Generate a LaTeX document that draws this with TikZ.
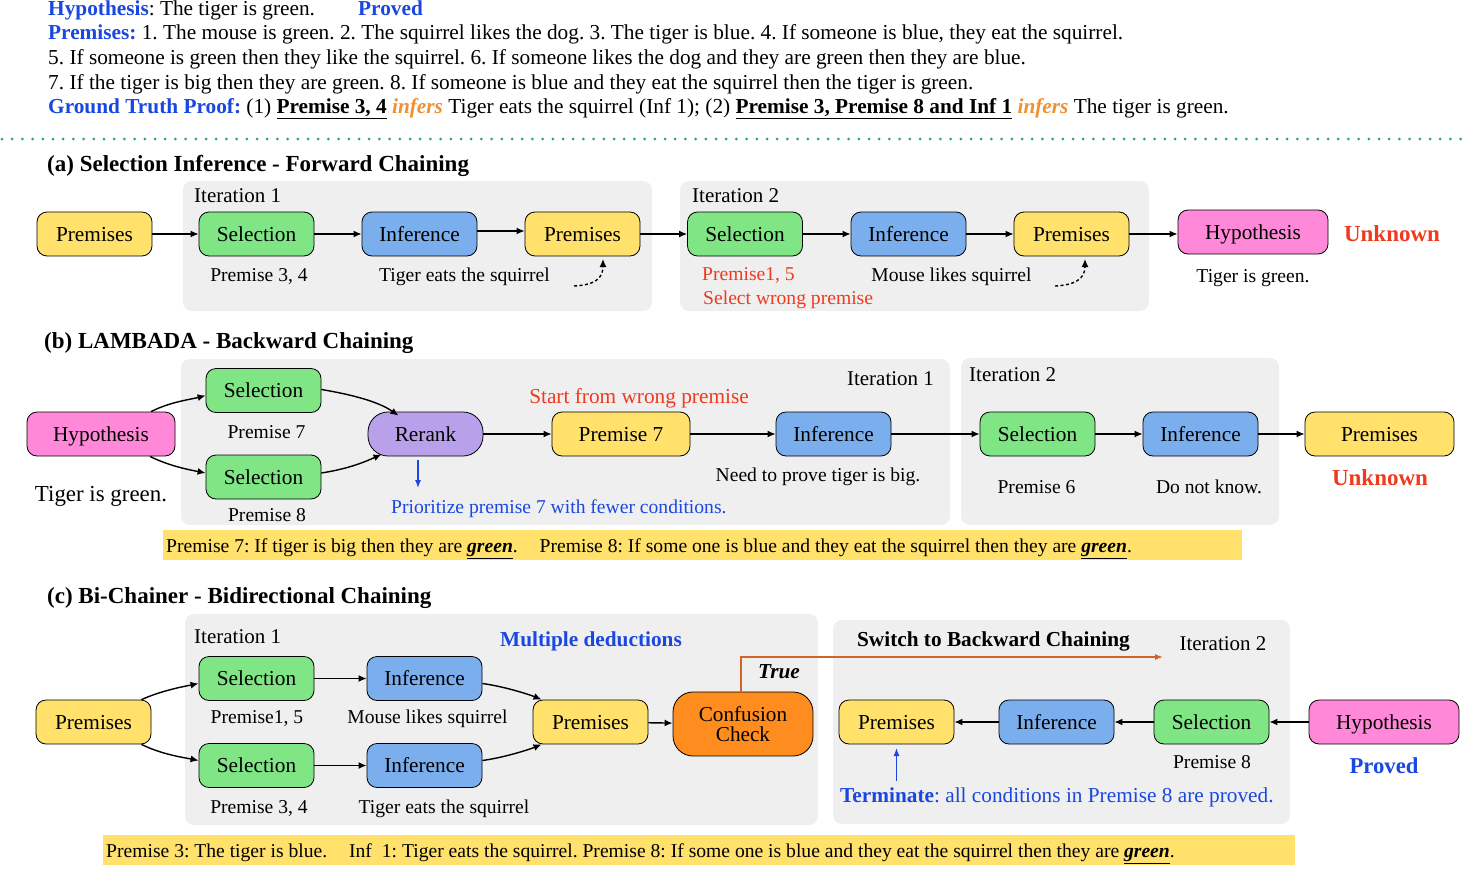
\documentclass[tikz,border=0pt]{standalone}
\usepackage{fontspec}
\setmainfont{Liberation Serif}
\usetikzlibrary{arrows.meta,calc}
\definecolor{cyel}{HTML}{FFE16B}
\definecolor{cgrn}{HTML}{7FE585}
\definecolor{cblu}{HTML}{7BAEEC}
\definecolor{cpnk}{HTML}{FF88D8}
\definecolor{cpur}{HTML}{B9A0EA}
\definecolor{corg}{HTML}{FF8C1F}
\definecolor{cpanel}{HTML}{EFEFEF}
\definecolor{tred}{HTML}{EE3A1E}
\definecolor{tblu}{HTML}{1A47E0}
\definecolor{tinf}{HTML}{F09030}
\definecolor{cteal}{HTML}{2A9D8F}
\definecolor{carr}{HTML}{D2642A}
\frenchspacing
\newcommand{\szbody}{\frenchspacing\fontsize{21.3}{25}\selectfont}
\newcommand{\szbox}{\fontsize{21.3}{24}\selectfont}
\newcommand{\szlbl}{\frenchspacing\fontsize{19.6}{23}\selectfont}
\newcommand{\sziter}{\fontsize{21}{24}\selectfont}
\newcommand{\szhead}{\fontsize{23}{26}\selectfont\bfseries}
\newcommand{\szband}{\frenchspacing\fontsize{19.6}{23}\selectfont}
\newcommand{\szsub}{\fontsize{21.3}{24}\selectfont\bfseries}
\tikzset{
  x=1pt,y=-1pt,
  box/.style={draw=black,line width=0.8pt,rounded corners=10pt,minimum height=44pt,minimum width=115pt,inner sep=0pt,font=\szbox,align=center,text height=18pt,text depth=4pt},
  ybox/.style={box,fill=cyel},
  gbox/.style={box,fill=cgrn},
  bbox/.style={box,fill=cblu},
  pbox/.style={box,fill=cpnk,minimum width=150pt},
  panel/.style={fill=cpanel,rounded corners=9pt},
  band/.style={fill=cyel},
  conn/.style={-{Latex[length=8pt,width=7pt]},line width=1.4pt,black},
  dconn/.style={conn,dash pattern=on 3pt off 2.5pt},
  blueconn/.style={-{Latex[length=8pt,width=6pt]},line width=1.3pt,tblu},
  lbl/.style={inner sep=0pt,font=\szlbl,text height=18pt,text depth=4pt},
  txtl/.style={inner sep=0pt,anchor=west,font=\szbody,text height=16.5pt,text depth=4pt},
  head/.style={inner sep=0pt,anchor=west,font=\szhead,text height=20pt,text depth=4.5pt},
}
\begin{document}
\begin{tikzpicture}
\useasboundingbox (0,0) rectangle (1475,870);
% top text
\node[txtl] (t1) at (48,9) {\textcolor{tblu}{\textbf{Hypothesis}}: The tiger is green.};
\node[txtl,font=\szbody\bfseries,text=tblu] (t1b) at (358,9) {Proved};
\node[txtl] (t2) at (48,33) {\textcolor{tblu}{\textbf{Premises:}} 1. The mouse is green. 2. The squirrel likes the dog. 3. The tiger is blue. 4. If someone is blue, they eat the squirrel.};
\node[txtl] (t3) at (48,58) {5. If someone is green then they like the squirrel. 6. If someone likes the dog and they are green then they are blue.};
\node[txtl] (t4) at (48,83) {7. If the tiger is big then they are green. 8. If someone is blue and they eat the squirrel then the tiger is green.};
\node[txtl] (t5) at (48,107) {\textcolor{tblu}{\textbf{Ground Truth Proof:}} (1) \underline{\textbf{Premise 3, 4}} \textcolor{tinf}{\textbf{\textit{infers}}} Tiger eats the squirrel (Inf 1); (2) \underline{\textbf{Premise 3, Premise 8 and Inf 1}} \textcolor{tinf}{\textbf{\textit{infers}}} The tiger is green.};
\coordinate (dl) at (2,139);
\coordinate (dr) at (1466,139);
\draw[cteal,line width=3pt,line cap=round,dash pattern=on 0pt off 10.2pt] (dl) -- (dr);
% panels
\fill[panel] (183,181) rectangle (652,311);
\fill[panel] (680,181) rectangle (1149,311);
\fill[panel] (181,359) rectangle (950,525);
\fill[panel] (961,358) rectangle (1279,525);
\fill[panel] (185,614) rectangle (818,825);
\fill[panel] (833,620) rectangle (1290,824);
\fill[band] (163,530) rectangle (1242,560);
\fill[band] (103,835) rectangle (1295,865);
% section (a)
\node[head] (ha) at (47,164) {(a) Selection Inference - Forward Chaining};
\node[lbl,anchor=west,font=\sziter] (a1t) at (194,195) {Iteration 1};
\node[lbl,anchor=west,font=\sziter] (a2t) at (692,195) {Iteration 2};
\node[ybox] (ap0) at (94.5,234) {Premises};
\node[gbox] (as1) at (256.5,234) {Selection};
\node[bbox] (ai1) at (419.5,234) {Inference};
\node[ybox] (ap1) at (582.5,234) {Premises};
\node[gbox] (as2) at (745,234) {Selection};
\node[bbox] (ai2) at (908.5,234) {Inference};
\node[ybox] (ap2) at (1071.5,234) {Premises};
\node[pbox] (ah) at (1253,232) {Hypothesis};
\draw[conn] (ap0) -- (as1);
\draw[conn] (as1) -- (ai1);
\draw[conn] ([yshift=3pt]ai1.east) -- ([yshift=3pt]ap1.west);
\draw[conn] (ap1) -- (as2);
\draw[conn] (as2) -- (ai2);
\draw[conn] (ai2) -- (ap2);
\draw[conn] (ap2.east) -- (ah.west |- ap2.east);
\node[lbl] (al1) at (259,274) {Premise 3, 4};
\node[lbl] (al2) at (464.5,274) {Tiger eats the squirrel};
\node[lbl,text=tred,anchor=west] (al3) at (702,273) {Premise1, 5};
\node[lbl,text=tred,anchor=west] (al4) at (703,297) {Select wrong premise};
\node[lbl] (al5) at (951.5,274) {Mouse likes squirrel};
\node[lbl] (al6) at (1253,275) {Tiger is green.};
\node[lbl,font=\fontsize{23}{26}\selectfont\bfseries,text=tred] (au) at (1392,234) {Unknown};
\coordinate (c1a) at (574,286);
\coordinate (c1b) at (603,259);
\draw[dconn] (c1a) .. controls (594,285) and (603,279) .. (c1b);
\coordinate (c2a) at (1055,286);
\coordinate (c2b) at (1085,259);
\draw[dconn] (c2a) .. controls (1075,285) and (1085,279) .. (c2b);
% section (b)
\node[head] (hb) at (44,341) {(b) LAMBADA - Backward Chaining};
\node[pbox,minimum width=148pt] (bh) at (101,434) {Hypothesis};
\node[gbox] (bs1) at (263.5,390.5) {Selection};
\node[gbox] (bs2) at (263.5,477) {Selection};
\node[box,fill=cpur,rounded corners=20pt] (br) at (425.5,434) {Rerank};
\node[ybox,minimum width=138pt] (bp7) at (621,434) {Premise 7};
\node[bbox] (bi1) at (833.5,434) {Inference};
\node[gbox] (bs3) at (1037.5,434) {Selection};
\node[bbox] (bi2) at (1200.5,434) {Inference};
\node[ybox,minimum width=149pt] (bp) at (1379.5,434) {Premises};
\draw[conn] ([xshift=50pt]bh.north) .. controls +(20,-10) and +(-15,4) .. ([yshift=-5pt]bs1.west);
\draw[conn] ([xshift=49pt]bh.south) .. controls +(20,10) and +(-15,-3) .. ([yshift=4pt]bs2.west);
\draw[conn] ([yshift=1pt]bs1.east) .. controls +(30,5) and +(-20,-14) .. ([xshift=-27pt,yshift=-4pt]br.north);
\draw[conn] ([yshift=4pt]bs2.east) .. controls +(25,-4) and +(-20,9) .. ([xshift=-44pt,yshift=2pt]br.south);
\draw[conn] (br) -- (bp7);
\draw[conn] (bp7) -- (bi1);
\draw[conn] (bi1) -- (bs3);
\draw[conn] (bs3) -- (bi2);
\draw[conn] (bi2) -- (bp);
\node[lbl] (bl1) at (266.5,431) {Premise 7};
\node[lbl] (bl2) at (267,514) {Premise 8};
\node[lbl,font=\fontsize{22.9}{26}\selectfont] (bl3) at (101,494) {Tiger is green.};
\node[lbl,font=\szbody,text=tred] (bl4) at (639,396) {Start from wrong premise};
\node[lbl,font=\sziter] (bl5) at (890.5,378) {Iteration 1};
\node[lbl,font=\sziter,anchor=west] (bl6) at (969,374) {Iteration 2};
\node[lbl] (bl7) at (818,474) {Need to prove tiger is big.};
\node[lbl] (bl8) at (1036.5,486) {Premise 6};
\node[lbl] (bl9) at (1209,486) {Do not know.};
\node[lbl,text=tblu,anchor=west] (bl10) at (391,506) {Prioritize premise 7 with fewer conditions.};
\node[lbl,font=\fontsize{23}{26}\selectfont\bfseries,text=tred] (bu) at (1380,478) {Unknown};
\coordinate (barr1) at (418,460);
\coordinate (barr2) at (418,488);
\draw[blueconn] (barr1) -- (barr2);
\node[lbl,anchor=west,font=\szband] (bb) at (166,545.5) {Premise 7: If tiger is big then they are \underline{\textbf{\textit{green}}}.\hspace{17pt} Premise 8: If some one is blue and they eat the squirrel then they are \underline{\textbf{\textit{green}}}.};
% section (c)
\node[head] (hc) at (47,596) {(c) Bi-Chainer - Bidirectional Chaining};
\node[lbl,anchor=west,font=\sziter] (c1t) at (194,636) {Iteration 1};
\node[lbl,font=\szsub,text=tblu] (cmd) at (591,639) {Multiple deductions};
\node[lbl,font=\szsub] (csw) at (993.5,639) {Switch to Backward Chaining};
\node[lbl,font=\sziter] (c2t) at (1223,643) {Iteration 2};
\node[ybox] (cp0) at (93.5,722) {Premises};
\node[gbox] (cs1) at (256.5,678.5) {Selection};
\node[gbox] (cs2) at (256.5,765.5) {Selection};
\node[bbox] (ci1) at (424.5,678.5) {Inference};
\node[bbox] (ci2) at (424.5,765.5) {Inference};
\node[ybox] (cp1) at (590.5,722) {Premises};
\node[box,fill=corg,minimum width=140pt,minimum height=64pt,rounded corners=20pt,font=\fontsize{21.2}{20}\selectfont,text height=,text depth=] (cc) at (743,724) {Confusion\\Check};
\node[ybox] (cp2) at (896.5,722) {Premises};
\node[bbox] (ci3) at (1056.5,722) {Inference};
\node[gbox] (cs3) at (1211.5,722) {Selection};
\node[pbox] (ch) at (1384,722) {Hypothesis};
\draw[conn] ([xshift=48pt]cp0.north) .. controls +(20,-9) and +(-15,3) .. ([yshift=-5pt]cs1.west);
\draw[conn] ([xshift=48pt]cp0.south) .. controls +(20,10) and +(-15,-3) .. ([yshift=5pt]cs2.west);
\draw[conn] (cs1) -- (ci1);
\draw[conn] (cs2) -- (ci2);
\draw[conn] ([yshift=-5pt]ci1.east) .. controls +(22,3) and +(-12,-5) .. ([xshift=-49pt]cp1.north);
\draw[conn] ([yshift=5pt]ci2.east) .. controls +(22,-3) and +(-12,5) .. ([xshift=-49pt]cp1.south);
\draw[conn] (cp1) -- (cc);
\draw[conn] (ci3) -- (cp2);
\draw[conn] (cs3) -- (ci3);
\draw[conn] (ch) -- (cs3);
\coordinate (oe) at (1163,657);
\draw[-{Latex[length=8pt,width=6pt]},line width=1.3pt,carr] ([xshift=-2pt]cc.north) |- (oe);
\node[lbl,font=\fontsize{21.3}{24}\selectfont\bfseries\itshape] (ctr) at (779,671) {True};
\node[lbl] (cl1) at (257,716) {Premise1, 5};
\node[lbl] (cl2) at (427.5,716) {Mouse likes squirrel};
\node[lbl] (cl3) at (259,806) {Premise 3, 4};
\node[lbl] (cl4) at (444,806) {Tiger eats the squirrel};
\node[lbl] (cl5) at (1212,761) {Premise 8};
\node[lbl,font=\fontsize{22.7}{26}\selectfont\bfseries,text=tblu] (cpr) at (1384,766) {Proved};
\coordinate (ct1) at (896.5,781);
\coordinate (ct2) at (896.5,748);
\draw[blueconn] (ct1) -- (ct2);
\node[lbl,anchor=west,font=\szbody,text=tblu] (cter) at (840,795) {\textbf{Terminate}: all conditions in Premise 8 are proved.};
\node[lbl,anchor=west,font=\szband] (cb) at (106,850.5) {Premise 3: The tiger is blue.\hspace{17pt} Inf\hspace{5pt} 1: Tiger eats the squirrel. Premise 8: If some one is blue and they eat the squirrel then they are \underline{\textbf{\textit{green}}}.};
\end{tikzpicture}
\end{document}
